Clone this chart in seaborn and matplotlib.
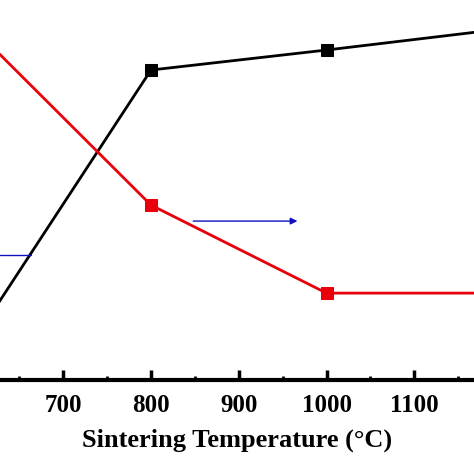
import matplotlib
matplotlib.use("Agg")
import matplotlib.pyplot as plt
import seaborn as sns
import pandas as pd

temps = [600, 800, 1000, 1200]
black_vals = [62, 330, 350, 371]   # left-axis property (arbitrary units)
red_vals = [370, 195, 107, 107]    # right-axis property (arbitrary units)

sns.set_style("white")
plt.rcParams['font.family'] = ['Liberation Serif', 'DejaVu Serif']
plt.rcParams['font.weight'] = 'bold'

fig = plt.figure(figsize=(4.74, 4.74), dpi=100)
ax = fig.add_axes([0, 0.198, 1, 0.802])
df = pd.DataFrame({"T": temps, "b": black_vals, "r": red_vals})
sns.lineplot(data=df, x="T", y="b", color="black", marker="s", markersize=8,
             markeredgecolor="black", lw=2, ax=ax)
sns.lineplot(data=df, x="T", y="r", color="#e8000b", marker="s", markersize=8,
             markeredgecolor="#e8000b", lw=2, ax=ax)
ax.set_xlim(628, 1168)
ax.set_ylim(20, 400)
ax.plot([628, 663], [145, 145], color="#1010c0", lw=1)
ax.annotate("", xy=(970, 179), xytext=(845, 179),
            arrowprops=dict(arrowstyle="-|>", color="#1010c0", lw=1))
ax.set_xticks([700, 800, 900, 1000, 1100])
ax.set_xticks([650, 750, 850, 950, 1050, 1150], minor=True)
ax.tick_params(axis='x', which='major', direction='in', length=7, width=2.5,
               labelsize=18, pad=10, bottom=True, colors='black')
ax.tick_params(axis='x', which='minor', direction='in', length=3, width=2, bottom=True, colors='black')
ax.set_yticks([])
for s in ax.spines.values():
    s.set_visible(False)
ax.spines['bottom'].set_visible(True)
ax.spines['bottom'].set_linewidth(3)
ax.spines['bottom'].set_color('black')
ax.set_ylabel("")
ax.set_xlabel("Sintering Temperature (\u00b0C)", fontsize=19, fontweight='bold',
              labelpad=8, color='black')
fig.savefig("out.png", dpi=100)
